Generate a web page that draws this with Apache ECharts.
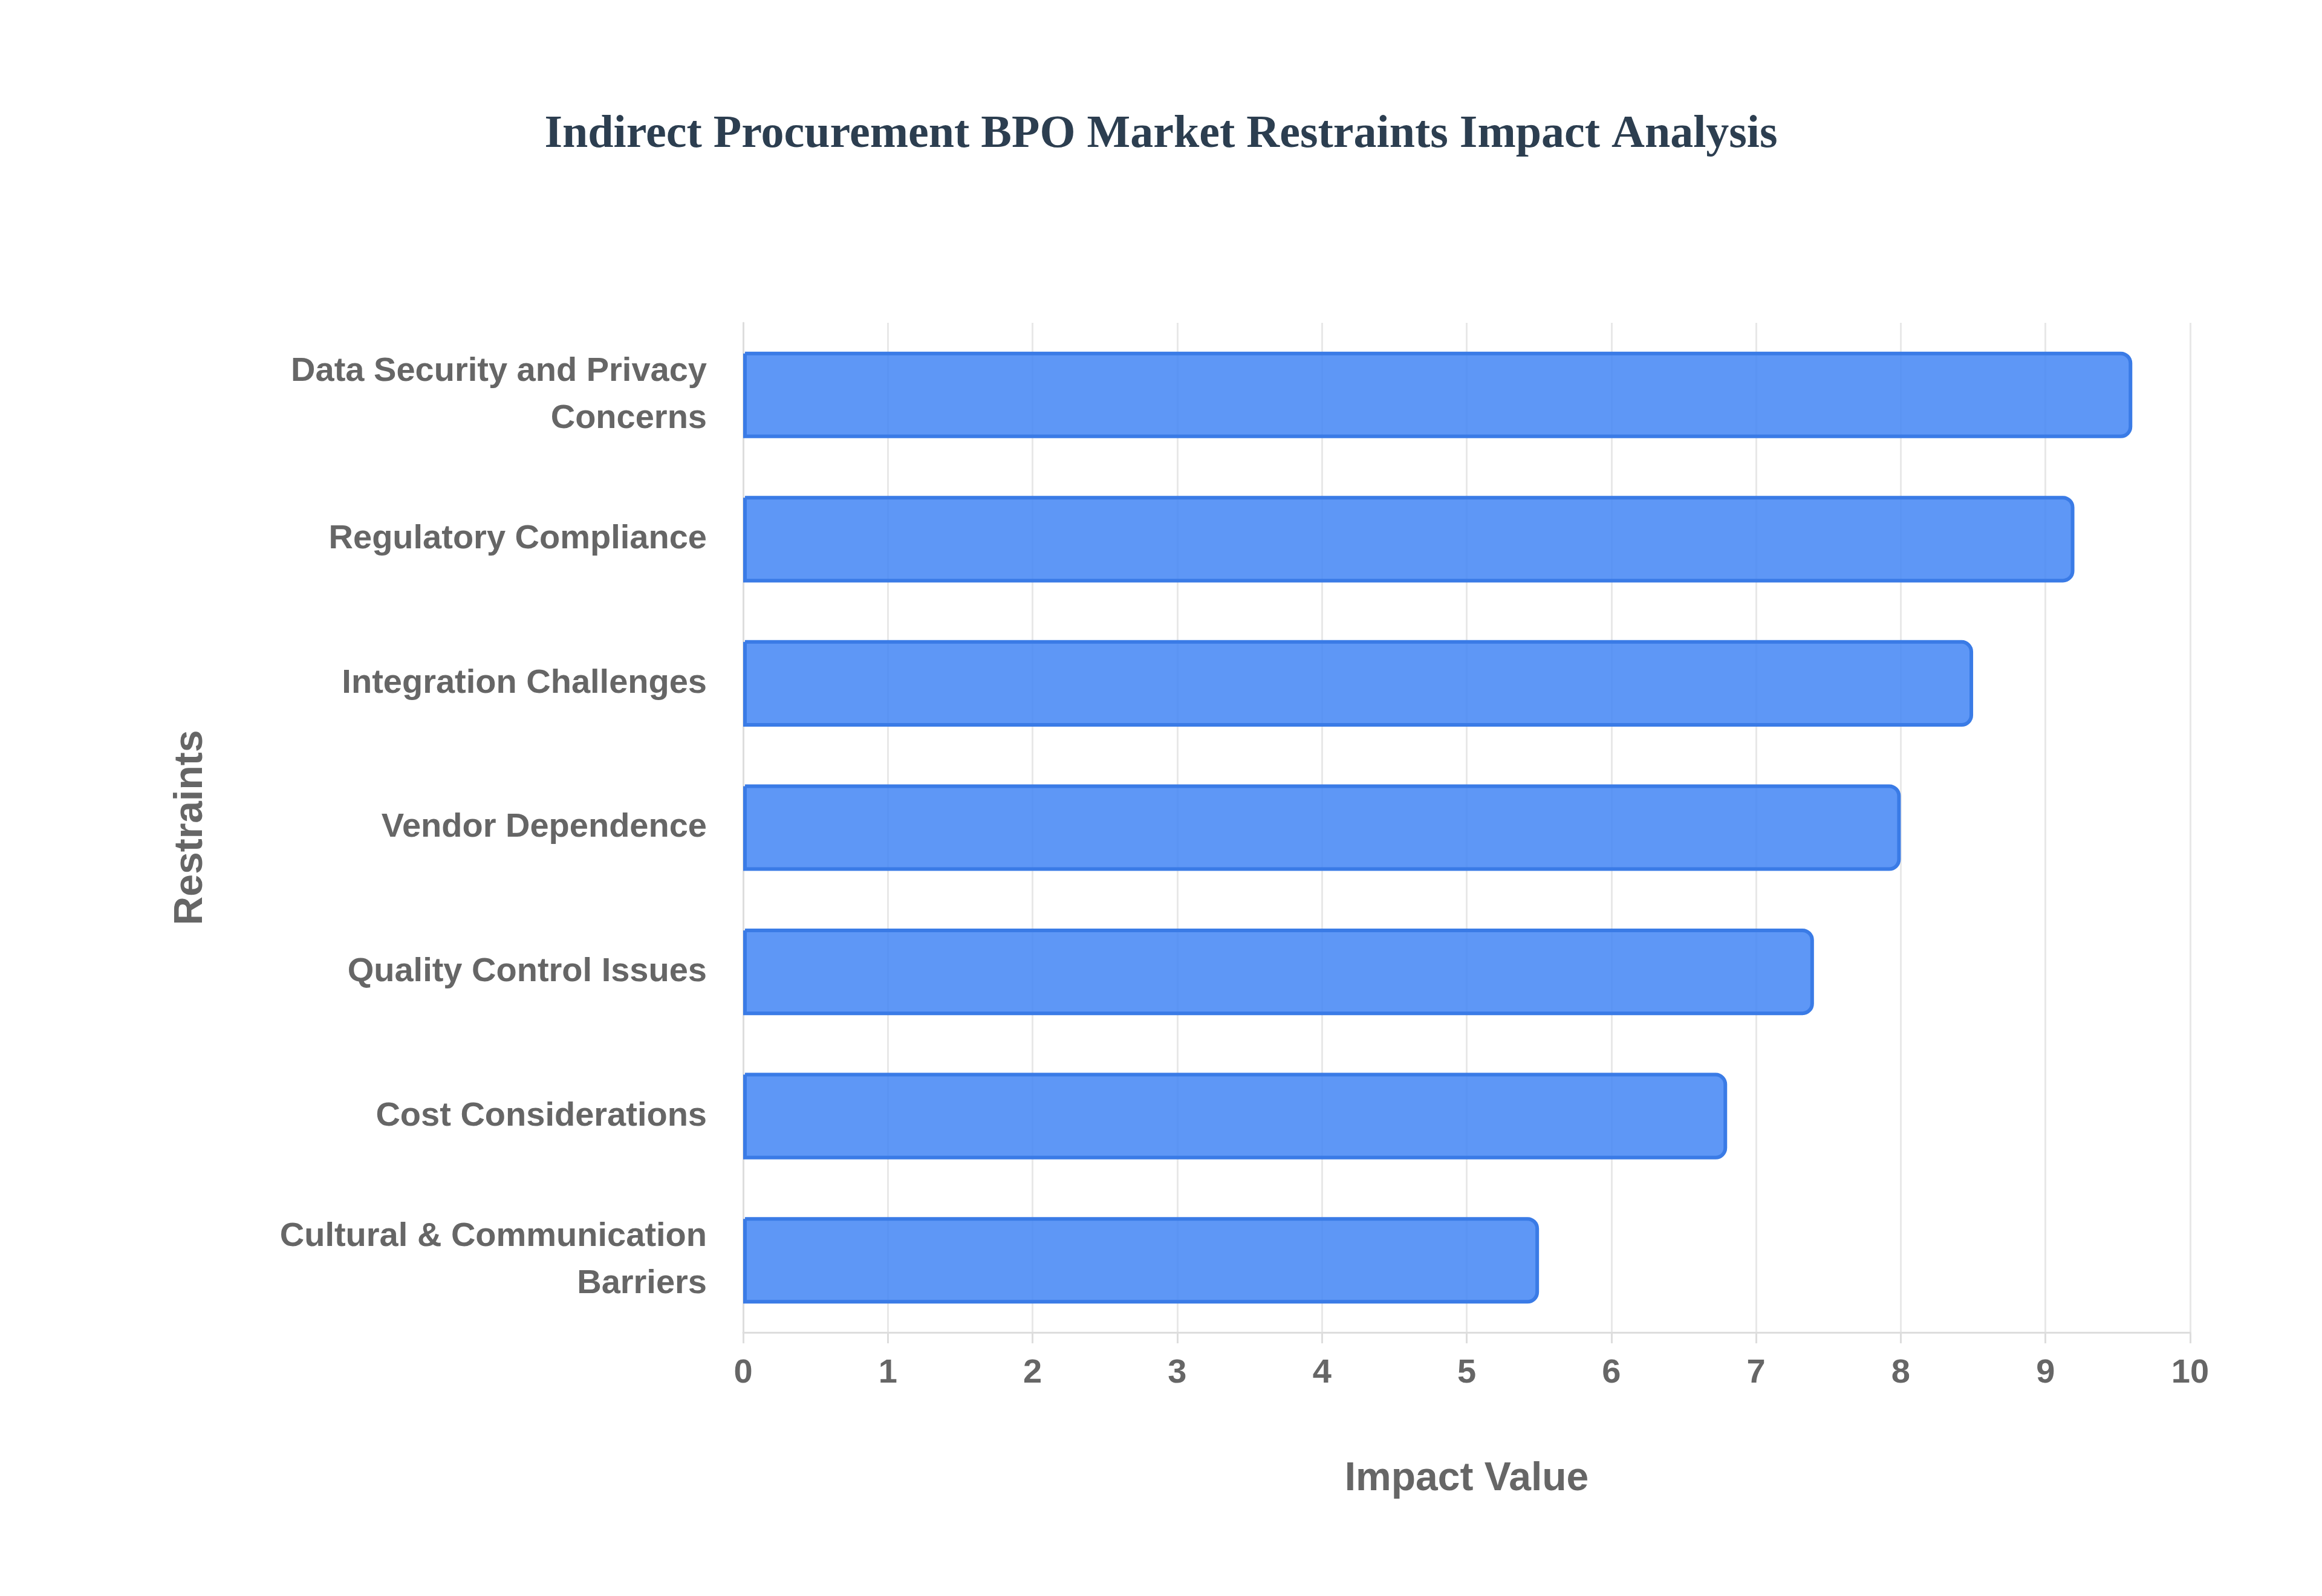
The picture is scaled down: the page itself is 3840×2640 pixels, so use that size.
<!DOCTYPE html>
<html><head><meta charset="utf-8">
<script src="https://cdn.jsdelivr.net/npm/echarts@6/dist/echarts.min.js"></script>
<style>html,body{margin:0;padding:0;background:#fff}#c{width:3840px;height:2640px}</style>
</head><body><div id="c"></div>
<script>
const categories = ["Data Security and Privacy\nConcerns","Regulatory Compliance","Integration Challenges","Vendor Dependence","Quality Control Issues","Cost Considerations","Cultural & Communication\nBarriers"];
const values = [9.6, 9.2, 8.5, 8.0, 7.4, 6.8, 5.5];
const chart = echarts.init(document.getElementById('c'));
chart.setOption({
  backgroundColor:'#fff',
  title:{text:'Indirect Procurement BPO Market Restraints Impact Analysis',left:'center',top:180,
    textStyle:{fontFamily:'Liberation Serif',fontWeight:'bold',fontSize:76,color:'#2c3e50'}},
  grid:{left:1229,right:218,top:534,bottom:436,containLabel:false},
  xAxis:{type:'value',min:0,max:10,interval:1,name:'Impact Value',nameLocation:'middle',nameGap:210,
    nameTextStyle:{fontFamily:'Liberation Sans',fontWeight:'bold',fontSize:66,color:'#666'},
    axisLabel:{fontFamily:'Liberation Sans',fontWeight:'bold',fontSize:56,color:'#666',margin:40},
    axisLine:{show:true,lineStyle:{color:'#ddd',width:3}},axisTick:{show:true,length:18,lineStyle:{color:'#ddd',width:3}},
    splitLine:{lineStyle:{color:'#e8e8e8',width:3}}},
  yAxis:{type:'category',data:categories,inverse:true,name:'Restraints',nameLocation:'middle',nameGap:880,
    nameTextStyle:{fontFamily:'Liberation Sans',fontWeight:'bold',fontSize:66,color:'#666'},
    axisLabel:{fontFamily:'Liberation Sans',fontWeight:'bold',fontSize:56,color:'#666',margin:60,lineHeight:78,align:'right'},
    axisLine:{show:true,lineStyle:{color:'#ddd',width:3}},axisTick:{show:false}},
  series:[{type:'bar',data:values,barWidth:'60%',
    itemStyle:{color:'rgba(66,133,244,0.85)',borderColor:'#3a7be6',borderWidth:6,borderRadius:[0,16,16,0]}}]
});
</script></body></html>
